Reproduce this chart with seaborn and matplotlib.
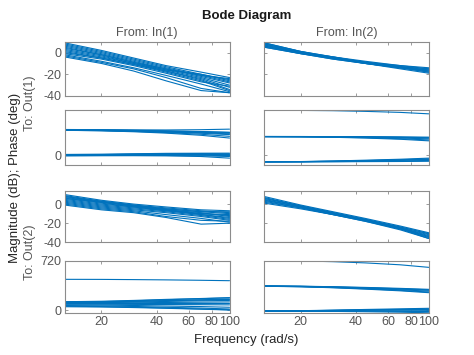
import matplotlib
matplotlib.use("Agg")
import matplotlib.pyplot as plt
import seaborn as sns
import pandas as pd

# ---------------- data ----------------
FREQ = [12.6, 20, 30, 45, 70, 100]

MAG_OUT1_IN1 = [
    [9, 2, -5, -12, -18, -23],
    [8, 1, -6, -13, -20, -25],
    [7, 0, -7, -14, -21, -27],
    [6, -1, -8, -15, -22, -28],
    [5, -2, -9, -15, -21, -24],
    [4, -2, -9, -16, -23, -30],
    [3, -3, -10, -17, -24, -32],
    [2, -4, -10, -16, -20, -26],
    [1, -5, -11, -17, -25, -34],
    [0, -5, -11, -18, -26, -35],
    [-1, -6, -12, -19, -27, -31],
    [-2, -8, -14, -21, -29, -36],
    [-3, -9, -15, -23, -33, -37],
    [-4, -10, -17, -26, -35, -37],
]
MAG_OUT1_IN2 = [
    [9, 1, -4, -8, -12, -14],
    [8, 1, -4, -9, -13, -15],
    [7, 0, -5, -9, -13, -16],
    [6, 0, -5, -10, -14, -17],
    [6, -1, -6, -10, -14, -18],
    [5, -1, -6, -10, -15, -19],
    [8, 0, -5, -9, -12, -15],
    [7, 0, -4, -9, -13, -17],
    [5, -1, -5, -10, -14, -18],
    [9, 1, -5, -9, -14, -16],
]
PH_OUT1_IN1 = [
    [375, 372, 370, 368, 372, 380],
    [372, 368, 362, 355, 345, 335],
    [370, 365, 358, 348, 335, 320],
    [368, 362, 352, 338, 320, 300],
    [366, 360, 348, 330, 305, 275],
    [364, 356, 342, 322, 290, 250],
    [362, 358, 350, 340, 328, 310],
    [370, 366, 360, 352, 342, 330],
    [10, 14, 20, 26, 28, 29],
    [5, 8, 14, 20, 22, 20],
    [0, 3, 6, 10, 12, 10],
    [-5, -3, 0, 2, 0, -5],
    [-8, -6, -5, -6, -10, -20],
    [-10, -8, -8, -10, -20, -44],
    [2, 6, 12, 16, 14, 5],
    [-3, 0, 3, 6, 4, -10],
]
PH_OUT1_IN2 = [
    [655, 654, 650, 640, 625, 604],
    [272, 272, 271, 270, 267, 263],
    [272, 271, 269, 265, 258, 250],
    [271, 270, 266, 260, 250, 238],
    [270, 268, 263, 255, 240, 222],
    [270, 267, 261, 250, 232, 209],
    [273, 272, 270, 268, 262, 255],
    [-98, -94, -86, -74, -60, -44],
    [-98, -95, -89, -80, -68, -55],
    [-98, -96, -92, -85, -76, -65],
    [-98, -97, -95, -91, -85, -78],
    [-98, -98, -97, -95, -93, -90],
    [-98, -96, -90, -82, -72, -60],
]
MAG_OUT2_IN1 = [
    [10, 4, 0, -3, -6, -7],
    [9, 3, -1, -4, -7, -9],
    [8, 3, -1, -5, -8, -10],
    [7, 2, -2, -5, -8, -8],
    [6, 1, -3, -6, -10, -12],
    [5, 0, -3, -7, -11, -14],
    [4, -1, -4, -7, -10, -11],
    [3, -2, -5, -8, -12, -16],
    [2, -3, -6, -9, -13, -17],
    [1, -4, -7, -11, -15, -19],
    [0, -5, -8, -13, -17, -18],
    [-1, -6, -9, -14, -21, -20],
    [6, 2, -2, -6, -9, -13],
    [8, 2, -2, -6, -11, -15],
]
MAG_OUT2_IN2 = [
    [8, -1, -8, -15, -23, -30],
    [7, -2, -9, -16, -24, -31],
    [6, -2, -9, -16, -25, -33],
    [5, -3, -10, -17, -25, -34],
    [4, -3, -10, -17, -26, -35],
    [3, -4, -11, -18, -27, -36],
    [2, -4, -11, -18, -26, -34],
    [1, -5, -11, -17, -25, -32],
    [6, -2, -9, -17, -26, -36],
    [4, -3, -10, -16, -24, -31],
]
PH_OUT2_IN1 = [
    [448, 447, 444, 440, 434, 428],
    [121, 128, 140, 155, 168, 180],
    [115, 122, 134, 150, 165, 178],
    [110, 115, 125, 138, 150, 160],
    [105, 108, 115, 125, 135, 140],
    [100, 102, 105, 110, 115, 118],
    [95, 95, 95, 96, 96, 95],
    [85, 84, 82, 80, 78, 75],
    [75, 72, 66, 58, 50, 40],
    [65, 60, 52, 40, 28, 15],
    [55, 50, 42, 30, 15, 3],
    [48, 44, 36, 25, 12, 0],
    [118, 120, 126, 135, 145, 155],
]
PH_OUT2_IN2 = [
    [720, 716, 706, 688, 660, 623],
    [352, 348, 340, 330, 316, 302],
    [350, 345, 335, 322, 305, 288],
    [349, 343, 332, 316, 296, 275],
    [348, 341, 328, 310, 287, 262],
    [347, 339, 325, 305, 280, 253],
    [351, 346, 338, 326, 310, 295],
    [-15, -10, -2, 8, 17, 25],
    [-15, -11, -5, 2, 9, 15],
    [-15, -13, -9, -4, 1, 5],
    [-15, -15, -14, -13, -12, -10],
    [-15, -17, -20, -25, -32, -40],
    [-15, -16, -17, -18, -20, -22],
    [-15, -12, -6, 0, 6, 10],
]

X_TICKS = [20, 40, 60, 80, 100]
X_TICK_LABELS = ["20", "40", "60", "80", "100"]
MAG_TICKS = [-40, -20, 0]
PH2_TICKS = [0]
PH4_TICKS = [0, 720]

# ---------------- style ----------------
sns.set_style("white")
plt.rcParams["font.family"] = ["Liberation Sans", "DejaVu Sans"]

LINE_COLOR = "#0072BD"
SPINE_COLOR = "#8c8c8c"
TICK_COLOR = "#555555"

fig = plt.figure(figsize=(4.74, 3.55), dpi=100)
W, H = 474.0, 355.0

cols = [(64.5, 229.5), (264.0, 428.7)]
rows = [(41.7, 96.0), (110.0, 164.7), (190.7, 242.3), (260.7, 313.3)]

panels = [
    [MAG_OUT1_IN1, MAG_OUT1_IN2],
    [PH_OUT1_IN1, PH_OUT1_IN2],
    [MAG_OUT2_IN1, MAG_OUT2_IN2],
    [PH_OUT2_IN1, PH_OUT2_IN2],
]
ylims = [(-40, 10), (-140, 660), (-40, 14), (-48, 720)]
yticks = [MAG_TICKS, PH2_TICKS, MAG_TICKS, PH4_TICKS]


def to_frame(lines):
    recs = []
    for i, ys in enumerate(lines):
        for f, v in zip(FREQ, ys):
            recs.append({"freq": f, "val": v, "line": i})
    return pd.DataFrame(recs)


for r, (top, bot) in enumerate(rows):
    for c, (l, rr) in enumerate(cols):
        ax = fig.add_axes([l / W, 1 - bot / H, (rr - l) / W, (bot - top) / H])
        df = to_frame(panels[r][c])
        sns.lineplot(data=df, x="freq", y="val", units="line", estimator=None,
                     color=LINE_COLOR, lw=0.8, ax=ax, legend=False)
        ax.set_xscale("log")
        ax.set_xlim(12.6, 100)
        ax.set_ylim(*ylims[r])
        ax.set_xticks(X_TICKS)
        ax.minorticks_off()
        ax.set_xticklabels(X_TICK_LABELS if r == 3 else [])
        ax.set_yticks(yticks[r])
        if c == 0:
            ax.set_yticklabels([str(t) for t in yticks[r]])
        else:
            ax.set_yticklabels([])
        ax.set_xlabel("")
        ax.set_ylabel("")
        ax.tick_params(direction="in", length=2.5, width=0.6, color=SPINE_COLOR,
                       labelcolor=TICK_COLOR, labelsize=9, top=True, right=True,
                       bottom=True, left=True, pad=2)
        for s in ax.spines.values():
            s.set_visible(True)
            s.set_color(SPINE_COLOR)
            s.set_linewidth(0.8)

# texts
fig.text(246.6 / W, 1 - 16 / H, "Bode Diagram", ha="center", va="center",
         fontsize=9.5, fontweight="bold", color="#1a1a1a")
fig.text((cols[0][0] + cols[0][1]) / 2 / W, 1 - 33 / H, "From: In(1)",
         ha="center", va="center", fontsize=9, color="#555555")
fig.text((cols[1][0] + cols[1][1]) / 2 / W, 1 - 33 / H, "From: In(2)",
         ha="center", va="center", fontsize=9, color="#555555")
fig.text(246.6 / W, 1 - 340 / H, "Frequency (rad/s)", ha="center", va="center",
         fontsize=9.5, color="#262626")
fig.text(15 / W, 1 - 177.5 / H, "Magnitude (dB); Phase (deg)", ha="center",
         va="center", rotation=90, fontsize=9.5, color="#262626")
fig.text(30 / W, 1 - 103 / H, "To: Out(1)", ha="center", va="center",
         rotation=90, fontsize=9, color="#555555")
fig.text(30 / W, 1 - 252 / H, "To: Out(2)", ha="center", va="center",
         rotation=90, fontsize=9, color="#555555")

fig.savefig("out.png", dpi=100, facecolor="white")
